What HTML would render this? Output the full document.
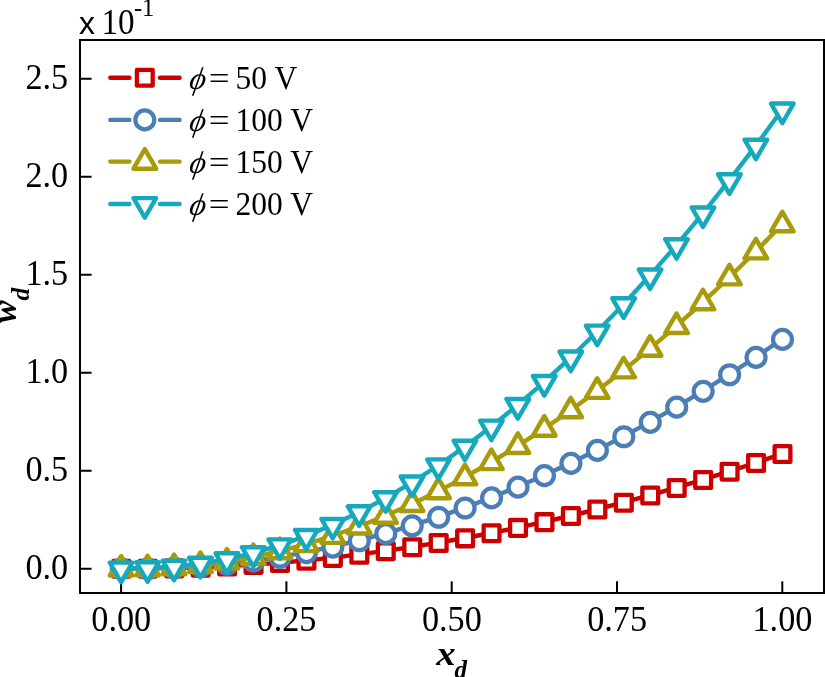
<!DOCTYPE html>
<html><head><meta charset="utf-8"><title>chart</title>
<style>
html,body{margin:0;padding:0;background:#fff;}
body{width:825px;height:677px;overflow:hidden;}
svg{display:block;}
text{font-family:"Liberation Serif",serif;fill:#000;}
.t{font-size:34.2px;}
.l{font-size:31.5px;}
</style></head><body>
<svg width="825" height="677" viewBox="0 0 825 677">
<rect width="825" height="677" fill="#fff"/>
<g stroke="#000" stroke-width="2" fill="none">
<path d="M80 39V594M79 40H825M79 593H825M824 39V594"/>
<path d="M80 568.75H91.6"/>
<path d="M80 470.75H91.6"/>
<path d="M80 372.75H91.6"/>
<path d="M80 274.75H91.6"/>
<path d="M80 176.75H91.6"/>
<path d="M80 78.75H91.6"/>
<path d="M121.1 593V581.3"/>
<path d="M286.4 593V581.3"/>
<path d="M451.7 593V581.3"/>
<path d="M617.0 593V581.3"/>
<path d="M782.3 593V581.3"/>
</g>
<polyline fill="none" stroke="#cc0000" stroke-width="4.4" points="121.10,568.50 147.55,568.40 174.00,568.03 200.44,567.30 226.89,566.17 253.34,564.64 279.79,562.69 306.24,560.34 332.68,557.58 359.13,554.43 385.58,550.90 412.03,546.98 438.48,542.69 464.92,538.03 491.37,533.01 517.82,527.61 544.27,521.86 570.72,515.74 597.16,509.26 623.61,502.42 650.06,495.21 676.51,487.65 702.96,479.72 729.40,471.42 755.85,462.76 782.30,453.74"/>
<rect x="113.40" y="560.90" width="15.8" height="15.8" fill="#fff" stroke="#cc0000" stroke-width="4.3" stroke-linejoin="round"/>
<rect x="139.85" y="560.80" width="15.8" height="15.8" fill="#fff" stroke="#cc0000" stroke-width="4.3" stroke-linejoin="round"/>
<rect x="166.30" y="560.43" width="15.8" height="15.8" fill="#fff" stroke="#cc0000" stroke-width="4.3" stroke-linejoin="round"/>
<rect x="192.74" y="559.70" width="15.8" height="15.8" fill="#fff" stroke="#cc0000" stroke-width="4.3" stroke-linejoin="round"/>
<rect x="219.19" y="558.57" width="15.8" height="15.8" fill="#fff" stroke="#cc0000" stroke-width="4.3" stroke-linejoin="round"/>
<rect x="245.64" y="557.04" width="15.8" height="15.8" fill="#fff" stroke="#cc0000" stroke-width="4.3" stroke-linejoin="round"/>
<rect x="272.09" y="555.09" width="15.8" height="15.8" fill="#fff" stroke="#cc0000" stroke-width="4.3" stroke-linejoin="round"/>
<rect x="298.54" y="552.74" width="15.8" height="15.8" fill="#fff" stroke="#cc0000" stroke-width="4.3" stroke-linejoin="round"/>
<rect x="324.98" y="549.98" width="15.8" height="15.8" fill="#fff" stroke="#cc0000" stroke-width="4.3" stroke-linejoin="round"/>
<rect x="351.43" y="546.83" width="15.8" height="15.8" fill="#fff" stroke="#cc0000" stroke-width="4.3" stroke-linejoin="round"/>
<rect x="377.88" y="543.30" width="15.8" height="15.8" fill="#fff" stroke="#cc0000" stroke-width="4.3" stroke-linejoin="round"/>
<rect x="404.33" y="539.38" width="15.8" height="15.8" fill="#fff" stroke="#cc0000" stroke-width="4.3" stroke-linejoin="round"/>
<rect x="430.78" y="535.09" width="15.8" height="15.8" fill="#fff" stroke="#cc0000" stroke-width="4.3" stroke-linejoin="round"/>
<rect x="457.22" y="530.43" width="15.8" height="15.8" fill="#fff" stroke="#cc0000" stroke-width="4.3" stroke-linejoin="round"/>
<rect x="483.67" y="525.41" width="15.8" height="15.8" fill="#fff" stroke="#cc0000" stroke-width="4.3" stroke-linejoin="round"/>
<rect x="510.12" y="520.01" width="15.8" height="15.8" fill="#fff" stroke="#cc0000" stroke-width="4.3" stroke-linejoin="round"/>
<rect x="536.57" y="514.26" width="15.8" height="15.8" fill="#fff" stroke="#cc0000" stroke-width="4.3" stroke-linejoin="round"/>
<rect x="563.02" y="508.14" width="15.8" height="15.8" fill="#fff" stroke="#cc0000" stroke-width="4.3" stroke-linejoin="round"/>
<rect x="589.46" y="501.66" width="15.8" height="15.8" fill="#fff" stroke="#cc0000" stroke-width="4.3" stroke-linejoin="round"/>
<rect x="615.91" y="494.82" width="15.8" height="15.8" fill="#fff" stroke="#cc0000" stroke-width="4.3" stroke-linejoin="round"/>
<rect x="642.36" y="487.61" width="15.8" height="15.8" fill="#fff" stroke="#cc0000" stroke-width="4.3" stroke-linejoin="round"/>
<rect x="668.81" y="480.05" width="15.8" height="15.8" fill="#fff" stroke="#cc0000" stroke-width="4.3" stroke-linejoin="round"/>
<rect x="695.26" y="472.12" width="15.8" height="15.8" fill="#fff" stroke="#cc0000" stroke-width="4.3" stroke-linejoin="round"/>
<rect x="721.70" y="463.82" width="15.8" height="15.8" fill="#fff" stroke="#cc0000" stroke-width="4.3" stroke-linejoin="round"/>
<rect x="748.15" y="455.16" width="15.8" height="15.8" fill="#fff" stroke="#cc0000" stroke-width="4.3" stroke-linejoin="round"/>
<rect x="774.60" y="446.14" width="15.8" height="15.8" fill="#fff" stroke="#cc0000" stroke-width="4.3" stroke-linejoin="round"/>
<polyline fill="none" stroke="#4a7eb5" stroke-width="4.4" points="121.10,568.50 147.55,568.30 174.00,567.55 200.44,566.09 226.89,563.85 253.34,560.78 279.79,556.89 306.24,552.18 332.68,546.67 359.13,540.37 385.58,533.29 412.03,525.46 438.48,516.88 464.92,507.56 491.37,497.51 517.82,486.73 544.27,475.22 570.72,462.98 597.16,450.02 623.61,436.34 650.06,421.93 676.51,406.79 702.96,390.93 729.40,374.34 755.85,357.03 782.30,338.98"/>
<circle cx="121.30" cy="568.90" r="9.45" fill="#fff" stroke="#4a7eb5" stroke-width="4.25"/>
<circle cx="147.75" cy="568.70" r="9.45" fill="#fff" stroke="#4a7eb5" stroke-width="4.25"/>
<circle cx="174.20" cy="567.95" r="9.45" fill="#fff" stroke="#4a7eb5" stroke-width="4.25"/>
<circle cx="200.64" cy="566.49" r="9.45" fill="#fff" stroke="#4a7eb5" stroke-width="4.25"/>
<circle cx="227.09" cy="564.25" r="9.45" fill="#fff" stroke="#4a7eb5" stroke-width="4.25"/>
<circle cx="253.54" cy="561.18" r="9.45" fill="#fff" stroke="#4a7eb5" stroke-width="4.25"/>
<circle cx="279.99" cy="557.29" r="9.45" fill="#fff" stroke="#4a7eb5" stroke-width="4.25"/>
<circle cx="306.44" cy="552.58" r="9.45" fill="#fff" stroke="#4a7eb5" stroke-width="4.25"/>
<circle cx="332.88" cy="547.07" r="9.45" fill="#fff" stroke="#4a7eb5" stroke-width="4.25"/>
<circle cx="359.33" cy="540.77" r="9.45" fill="#fff" stroke="#4a7eb5" stroke-width="4.25"/>
<circle cx="385.78" cy="533.69" r="9.45" fill="#fff" stroke="#4a7eb5" stroke-width="4.25"/>
<circle cx="412.23" cy="525.86" r="9.45" fill="#fff" stroke="#4a7eb5" stroke-width="4.25"/>
<circle cx="438.68" cy="517.28" r="9.45" fill="#fff" stroke="#4a7eb5" stroke-width="4.25"/>
<circle cx="465.12" cy="507.96" r="9.45" fill="#fff" stroke="#4a7eb5" stroke-width="4.25"/>
<circle cx="491.57" cy="497.91" r="9.45" fill="#fff" stroke="#4a7eb5" stroke-width="4.25"/>
<circle cx="518.02" cy="487.13" r="9.45" fill="#fff" stroke="#4a7eb5" stroke-width="4.25"/>
<circle cx="544.47" cy="475.62" r="9.45" fill="#fff" stroke="#4a7eb5" stroke-width="4.25"/>
<circle cx="570.92" cy="463.38" r="9.45" fill="#fff" stroke="#4a7eb5" stroke-width="4.25"/>
<circle cx="597.36" cy="450.42" r="9.45" fill="#fff" stroke="#4a7eb5" stroke-width="4.25"/>
<circle cx="623.81" cy="436.74" r="9.45" fill="#fff" stroke="#4a7eb5" stroke-width="4.25"/>
<circle cx="650.26" cy="422.33" r="9.45" fill="#fff" stroke="#4a7eb5" stroke-width="4.25"/>
<circle cx="676.71" cy="407.19" r="9.45" fill="#fff" stroke="#4a7eb5" stroke-width="4.25"/>
<circle cx="703.16" cy="391.33" r="9.45" fill="#fff" stroke="#4a7eb5" stroke-width="4.25"/>
<circle cx="729.60" cy="374.74" r="9.45" fill="#fff" stroke="#4a7eb5" stroke-width="4.25"/>
<circle cx="756.05" cy="357.43" r="9.45" fill="#fff" stroke="#4a7eb5" stroke-width="4.25"/>
<circle cx="782.50" cy="339.38" r="9.45" fill="#fff" stroke="#4a7eb5" stroke-width="4.25"/>
<polyline fill="none" stroke="#a89a08" stroke-width="4.4" points="121.10,568.50 147.55,568.20 174.00,567.08 200.44,564.89 226.89,561.52 253.34,556.92 279.79,551.08 306.24,544.02 332.68,535.75 359.13,526.30 385.58,515.69 412.03,503.95 438.48,491.08 464.92,477.10 491.37,462.02 517.82,445.84 544.27,428.57 570.72,410.22 597.16,390.78 623.61,370.25 650.06,348.64 676.51,325.94 702.96,302.15 729.40,277.26 755.85,251.29 782.30,224.23"/>
<polygon points="109.80,575.60 132.40,575.60 121.10,556.10" fill="#fff" stroke="#a89a08" stroke-width="4.45" stroke-linejoin="round"/>
<polygon points="136.25,575.30 158.85,575.30 147.55,555.80" fill="#fff" stroke="#a89a08" stroke-width="4.45" stroke-linejoin="round"/>
<polygon points="162.70,574.18 185.30,574.18 174.00,554.68" fill="#fff" stroke="#a89a08" stroke-width="4.45" stroke-linejoin="round"/>
<polygon points="189.14,571.99 211.74,571.99 200.44,552.49" fill="#fff" stroke="#a89a08" stroke-width="4.45" stroke-linejoin="round"/>
<polygon points="215.59,568.62 238.19,568.62 226.89,549.12" fill="#fff" stroke="#a89a08" stroke-width="4.45" stroke-linejoin="round"/>
<polygon points="242.04,564.02 264.64,564.02 253.34,544.52" fill="#fff" stroke="#a89a08" stroke-width="4.45" stroke-linejoin="round"/>
<polygon points="268.49,558.18 291.09,558.18 279.79,538.68" fill="#fff" stroke="#a89a08" stroke-width="4.45" stroke-linejoin="round"/>
<polygon points="294.94,551.12 317.54,551.12 306.24,531.62" fill="#fff" stroke="#a89a08" stroke-width="4.45" stroke-linejoin="round"/>
<polygon points="321.38,542.85 343.98,542.85 332.68,523.35" fill="#fff" stroke="#a89a08" stroke-width="4.45" stroke-linejoin="round"/>
<polygon points="347.83,533.40 370.43,533.40 359.13,513.90" fill="#fff" stroke="#a89a08" stroke-width="4.45" stroke-linejoin="round"/>
<polygon points="374.28,522.79 396.88,522.79 385.58,503.29" fill="#fff" stroke="#a89a08" stroke-width="4.45" stroke-linejoin="round"/>
<polygon points="400.73,511.05 423.33,511.05 412.03,491.55" fill="#fff" stroke="#a89a08" stroke-width="4.45" stroke-linejoin="round"/>
<polygon points="427.18,498.18 449.78,498.18 438.48,478.68" fill="#fff" stroke="#a89a08" stroke-width="4.45" stroke-linejoin="round"/>
<polygon points="453.62,484.20 476.22,484.20 464.92,464.70" fill="#fff" stroke="#a89a08" stroke-width="4.45" stroke-linejoin="round"/>
<polygon points="480.07,469.12 502.67,469.12 491.37,449.62" fill="#fff" stroke="#a89a08" stroke-width="4.45" stroke-linejoin="round"/>
<polygon points="506.52,452.94 529.12,452.94 517.82,433.44" fill="#fff" stroke="#a89a08" stroke-width="4.45" stroke-linejoin="round"/>
<polygon points="532.97,435.67 555.57,435.67 544.27,416.17" fill="#fff" stroke="#a89a08" stroke-width="4.45" stroke-linejoin="round"/>
<polygon points="559.42,417.32 582.02,417.32 570.72,397.82" fill="#fff" stroke="#a89a08" stroke-width="4.45" stroke-linejoin="round"/>
<polygon points="585.86,397.88 608.46,397.88 597.16,378.38" fill="#fff" stroke="#a89a08" stroke-width="4.45" stroke-linejoin="round"/>
<polygon points="612.31,377.35 634.91,377.35 623.61,357.85" fill="#fff" stroke="#a89a08" stroke-width="4.45" stroke-linejoin="round"/>
<polygon points="638.76,355.74 661.36,355.74 650.06,336.24" fill="#fff" stroke="#a89a08" stroke-width="4.45" stroke-linejoin="round"/>
<polygon points="665.21,333.04 687.81,333.04 676.51,313.54" fill="#fff" stroke="#a89a08" stroke-width="4.45" stroke-linejoin="round"/>
<polygon points="691.66,309.25 714.26,309.25 702.96,289.75" fill="#fff" stroke="#a89a08" stroke-width="4.45" stroke-linejoin="round"/>
<polygon points="718.10,284.36 740.70,284.36 729.40,264.86" fill="#fff" stroke="#a89a08" stroke-width="4.45" stroke-linejoin="round"/>
<polygon points="744.55,258.39 767.15,258.39 755.85,238.89" fill="#fff" stroke="#a89a08" stroke-width="4.45" stroke-linejoin="round"/>
<polygon points="771.00,231.33 793.60,231.33 782.30,211.83" fill="#fff" stroke="#a89a08" stroke-width="4.45" stroke-linejoin="round"/>
<polyline fill="none" stroke="#16a9bd" stroke-width="4.4" points="121.10,568.50 147.55,568.11 174.00,566.60 200.44,563.69 226.89,559.19 253.34,553.06 279.79,545.27 306.24,535.86 332.68,524.83 359.13,512.23 385.58,498.09 412.03,482.43 438.48,465.27 464.92,446.63 491.37,426.52 517.82,404.95 544.27,381.93 570.72,357.46 597.16,331.54 623.61,304.17 650.06,275.35 676.51,245.08 702.96,213.36 729.40,180.19 755.85,145.56 782.30,109.47"/>
<polygon points="109.80,562.60 132.40,562.60 121.10,582.10" fill="#fff" stroke="#16a9bd" stroke-width="4.45" stroke-linejoin="round"/>
<polygon points="136.25,562.21 158.85,562.21 147.55,581.71" fill="#fff" stroke="#16a9bd" stroke-width="4.45" stroke-linejoin="round"/>
<polygon points="162.70,560.70 185.30,560.70 174.00,580.20" fill="#fff" stroke="#16a9bd" stroke-width="4.45" stroke-linejoin="round"/>
<polygon points="189.14,557.79 211.74,557.79 200.44,577.29" fill="#fff" stroke="#16a9bd" stroke-width="4.45" stroke-linejoin="round"/>
<polygon points="215.59,553.29 238.19,553.29 226.89,572.79" fill="#fff" stroke="#16a9bd" stroke-width="4.45" stroke-linejoin="round"/>
<polygon points="242.04,547.16 264.64,547.16 253.34,566.66" fill="#fff" stroke="#16a9bd" stroke-width="4.45" stroke-linejoin="round"/>
<polygon points="268.49,539.37 291.09,539.37 279.79,558.87" fill="#fff" stroke="#16a9bd" stroke-width="4.45" stroke-linejoin="round"/>
<polygon points="294.94,529.96 317.54,529.96 306.24,549.46" fill="#fff" stroke="#16a9bd" stroke-width="4.45" stroke-linejoin="round"/>
<polygon points="321.38,518.93 343.98,518.93 332.68,538.43" fill="#fff" stroke="#16a9bd" stroke-width="4.45" stroke-linejoin="round"/>
<polygon points="347.83,506.33 370.43,506.33 359.13,525.83" fill="#fff" stroke="#16a9bd" stroke-width="4.45" stroke-linejoin="round"/>
<polygon points="374.28,492.19 396.88,492.19 385.58,511.69" fill="#fff" stroke="#16a9bd" stroke-width="4.45" stroke-linejoin="round"/>
<polygon points="400.73,476.53 423.33,476.53 412.03,496.03" fill="#fff" stroke="#16a9bd" stroke-width="4.45" stroke-linejoin="round"/>
<polygon points="427.18,459.37 449.78,459.37 438.48,478.87" fill="#fff" stroke="#16a9bd" stroke-width="4.45" stroke-linejoin="round"/>
<polygon points="453.62,440.73 476.22,440.73 464.92,460.23" fill="#fff" stroke="#16a9bd" stroke-width="4.45" stroke-linejoin="round"/>
<polygon points="480.07,420.62 502.67,420.62 491.37,440.12" fill="#fff" stroke="#16a9bd" stroke-width="4.45" stroke-linejoin="round"/>
<polygon points="506.52,399.05 529.12,399.05 517.82,418.55" fill="#fff" stroke="#16a9bd" stroke-width="4.45" stroke-linejoin="round"/>
<polygon points="532.97,376.03 555.57,376.03 544.27,395.53" fill="#fff" stroke="#16a9bd" stroke-width="4.45" stroke-linejoin="round"/>
<polygon points="559.42,351.56 582.02,351.56 570.72,371.06" fill="#fff" stroke="#16a9bd" stroke-width="4.45" stroke-linejoin="round"/>
<polygon points="585.86,325.64 608.46,325.64 597.16,345.14" fill="#fff" stroke="#16a9bd" stroke-width="4.45" stroke-linejoin="round"/>
<polygon points="612.31,298.27 634.91,298.27 623.61,317.77" fill="#fff" stroke="#16a9bd" stroke-width="4.45" stroke-linejoin="round"/>
<polygon points="638.76,269.45 661.36,269.45 650.06,288.95" fill="#fff" stroke="#16a9bd" stroke-width="4.45" stroke-linejoin="round"/>
<polygon points="665.21,239.18 687.81,239.18 676.51,258.68" fill="#fff" stroke="#16a9bd" stroke-width="4.45" stroke-linejoin="round"/>
<polygon points="691.66,207.46 714.26,207.46 702.96,226.96" fill="#fff" stroke="#16a9bd" stroke-width="4.45" stroke-linejoin="round"/>
<polygon points="718.10,174.29 740.70,174.29 729.40,193.79" fill="#fff" stroke="#16a9bd" stroke-width="4.45" stroke-linejoin="round"/>
<polygon points="744.55,139.66 767.15,139.66 755.85,159.16" fill="#fff" stroke="#16a9bd" stroke-width="4.45" stroke-linejoin="round"/>
<polygon points="771.00,103.57 793.60,103.57 782.30,123.07" fill="#fff" stroke="#16a9bd" stroke-width="4.45" stroke-linejoin="round"/>
<text class="t" transform="translate(68.2,579.25) scale(1,1.065)" text-anchor="end">0.0</text>
<text class="t" transform="translate(68.2,481.25) scale(1,1.065)" text-anchor="end">0.5</text>
<text class="t" transform="translate(68.2,383.25) scale(1,1.065)" text-anchor="end">1.0</text>
<text class="t" transform="translate(68.2,285.25) scale(1,1.065)" text-anchor="end">1.5</text>
<text class="t" transform="translate(68.2,187.25) scale(1,1.065)" text-anchor="end">2.0</text>
<text class="t" transform="translate(68.2,89.25) scale(1,1.065)" text-anchor="end">2.5</text>
<text class="t" transform="translate(121.2,631.35) scale(1,1.065)" text-anchor="middle">0.00</text>
<text class="t" transform="translate(286.5,631.35) scale(1,1.065)" text-anchor="middle">0.25</text>
<text class="t" transform="translate(451.8,631.35) scale(1,1.065)" text-anchor="middle">0.50</text>
<text class="t" transform="translate(617.1,631.35) scale(1,1.065)" text-anchor="middle">0.75</text>
<text class="t" transform="translate(782.4,631.35) scale(1,1.065)" text-anchor="middle">1.00</text>
<text x="79" y="33.6" style="font-family:'Liberation Sans',sans-serif;font-size:32px">x</text>
<text transform="translate(101.4,33.6) scale(1,1.06)" style="font-size:33.2px">10<tspan dx="-0.7" dy="-16.6" style="font-size:24.5px">-1</tspan></text>
<text transform="translate(436.3,664.7) scale(1.14,1)" style="font-size:34px;font-weight:bold;font-style:italic">x</text>
<text x="454.6" y="677.7" style="font-size:25px;font-weight:bold;font-style:italic">d</text>
<text transform="translate(16,323) rotate(-90)" style="font-size:34px;font-weight:bold;font-style:italic">w</text>
<text transform="translate(28.5,300.6) rotate(-90)" style="font-size:25.5px;font-weight:bold;font-style:italic">d</text>
<path d="M110.3 77.8H129.4M160 77.8H179.6" stroke="#cc0000" stroke-width="4.4" stroke-linecap="round" fill="none"/>
<rect x="136.90" y="69.90" width="15.8" height="15.8" fill="#fff" stroke="#cc0000" stroke-width="4.3" stroke-linejoin="round"/>
<text class="l" transform="translate(188.2,88.8) skewX(-10)" style="font-style:italic">ϕ</text>
<text class="l" transform="translate(208.8,88.8) scale(1.17,1)">=</text>
<text class="l" transform="translate(235.6,89.0) scale(1,1.05)">50 V</text>
<path d="M110.3 119.9H129.4M160 119.9H179.6" stroke="#4a7eb5" stroke-width="4.4" stroke-linecap="round" fill="none"/>
<circle cx="144.80" cy="119.90" r="9.45" fill="#fff" stroke="#4a7eb5" stroke-width="4.25"/>
<text class="l" transform="translate(188.2,130.9) skewX(-10)" style="font-style:italic">ϕ</text>
<text class="l" transform="translate(208.8,130.9) scale(1.17,1)">=</text>
<text class="l" transform="translate(235.6,131.1) scale(1,1.05)">100 V</text>
<path d="M110.3 161.6H129.4M160 161.6H179.6" stroke="#a89a08" stroke-width="4.4" stroke-linecap="round" fill="none"/>
<polygon points="133.50,168.70 156.10,168.70 144.80,149.20" fill="#fff" stroke="#a89a08" stroke-width="4.45" stroke-linejoin="round"/>
<text class="l" transform="translate(188.2,172.6) skewX(-10)" style="font-style:italic">ϕ</text>
<text class="l" transform="translate(208.8,172.6) scale(1.17,1)">=</text>
<text class="l" transform="translate(235.6,172.8) scale(1,1.05)">150 V</text>
<path d="M110.3 204.0H129.4M160 204.0H179.6" stroke="#16a9bd" stroke-width="4.4" stroke-linecap="round" fill="none"/>
<polygon points="133.50,198.10 156.10,198.10 144.80,217.60" fill="#fff" stroke="#16a9bd" stroke-width="4.45" stroke-linejoin="round"/>
<text class="l" transform="translate(188.2,215.0) skewX(-10)" style="font-style:italic">ϕ</text>
<text class="l" transform="translate(208.8,215.0) scale(1.17,1)">=</text>
<text class="l" transform="translate(235.6,215.2) scale(1,1.05)">200 V</text>
</svg></body></html>
